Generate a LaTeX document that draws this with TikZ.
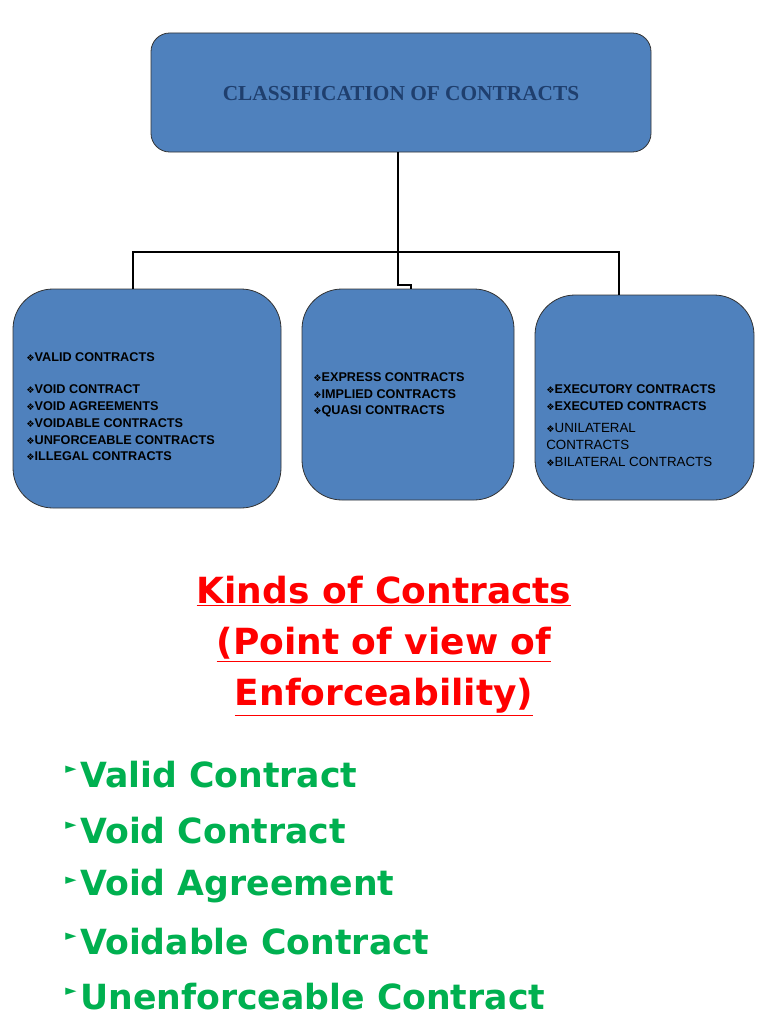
\documentclass[tikz,border=0pt]{standalone}
\usepackage{fontspec}
\setmainfont{Liberation Sans}
\newfontfamily\djfam{DejaVu Sans}
\newfontfamily\serfam{Liberation Serif}
\begin{document}
\begin{tikzpicture}[x=0.75pt,y=-0.75pt,
  box/.style={draw=black!80,fill=boxblue,rounded corners=30pt,line width=0.6pt},
  small/.style={font=\fontsize{9.5}{12.6}\selectfont\bfseries,align=left,anchor=west,inner sep=0pt},
  green/.style={font=\djfam\fontsize{26}{30}\selectfont\bfseries,text=itemgreen,anchor=west,inner sep=0pt},
  link/.style={draw=black,line width=1.2pt}]
\definecolor{boxblue}{HTML}{4F81BD}
\definecolor{itemgreen}{HTML}{00B050}
\definecolor{titleblue}{HTML}{1F3F6E}
\useasboundingbox (0,0) rectangle (768,1024);
\fill[white] (0,0) rectangle (768,1024);
\newcommand{\dbul}{{\djfam\fontsize{7}{8}\selectfont ❖}}
\draw[box,rounded corners=14pt] (151,33) rectangle (651,152);
\node[font=\serfam\fontsize{16}{18}\selectfont\bfseries,text=titleblue] (top) at (401,94) {CLASSIFICATION OF CONTRACTS};
\draw[box] (13,289) rectangle (281,508);
\draw[box] (302,289) rectangle (514,500);
\draw[box] (535,295) rectangle (754,500);
\coordinate (tb) at (398,152);
\coordinate (j) at (398,252);
\coordinate (l) at (133,289);
\coordinate (r) at (619,295);
\coordinate (m) at (411,289);
\draw[link] (tb) -- (j);
\draw[link] (l) -- (133,252) -- (619,252) -- (r);
\draw[link,line width=0.8pt] (j) -- (398,285) -- (411,285) -- (m);
\node[small] (b1a) at (26,357) {\dbul VALID CONTRACTS};
\node[small] (b1b) at (26,423) {\dbul VOID CONTRACT\\\dbul VOID AGREEMENTS\\\dbul VOIDABLE CONTRACTS\\\dbul UNFORCEABLE CONTRACTS\\\dbul ILLEGAL CONTRACTS};
\node[small] (b2) at (313,395) {\dbul EXPRESS CONTRACTS\\\dbul IMPLIED CONTRACTS\\\dbul QUASI CONTRACTS};
\node[small] (b3a) at (546,398) {\dbul EXECUTORY CONTRACTS\\\dbul EXECUTED CONTRACTS};
\node[small,font=\fontsize{10}{12.6}\selectfont] (b3b) at (546,445) {\dbul UNILATERAL\\CONTRACTS\\\dbul BILATERAL CONTRACTS};
\node[font=\djfam\fontsize{27}{38.5}\selectfont\bfseries,text=red,align=center] (head) at (384,646)
 {\underline{Kinds of Contracts}\\\underline{(Point of view of}\\\underline{Enforceability)}};
\foreach \t [count=\i] in {Valid Contract,Void Contract,Void Agreement,Voidable Contract,Unenforceable Contract}{
  \node[green] (g\i) at (80,{775+55.5*(\i-1)}) {\t};
  \node[anchor=east,inner sep=0pt,text=itemgreen,font=\djfam\fontsize{11}{12}\selectfont] (t\i) at (77,{770+55.5*(\i-1)}) {►};
}
\end{tikzpicture}
\end{document}
